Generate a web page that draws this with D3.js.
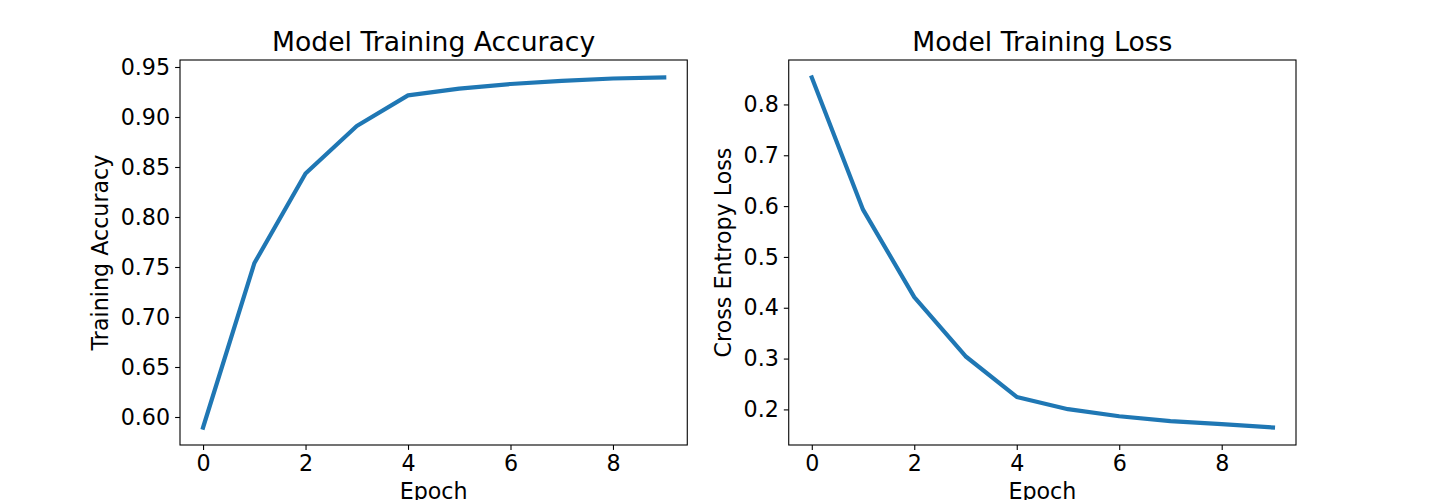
<!DOCTYPE html>
<html>
<head>
<meta charset="utf-8">
<script src="https://cdn.jsdelivr.net/npm/d3@7"></script>
<style>
  body { margin: 0; background: #fff; }
  svg { display: block; font-family: "DejaVu Sans", sans-serif; }
</style>
</head>
<body>
<svg id="chart" width="1440" height="500"></svg>
<script>
const epochs = [0, 1, 2, 3, 4, 5, 6, 7, 8, 9];
const accuracy = [0.5895, 0.7537, 0.8435, 0.8910, 0.9216, 0.9283, 0.9330, 0.9362, 0.9385, 0.9395];
const loss = [0.8530, 0.5930, 0.4210, 0.3046, 0.2245, 0.2004, 0.1866, 0.1768, 0.1710, 0.1644];
const xTicks = [0, 2, 4, 6, 8];
const accTicks = [0.60, 0.65, 0.70, 0.75, 0.80, 0.85, 0.90, 0.95];
const lossTicks = [0.2, 0.3, 0.4, 0.5, 0.6, 0.7, 0.8];

const svg = d3.select("#chart");
const W = 1440, H = 500;
const axLeft = 0.125 * W, axRight = 0.9 * W;
const axTop = 60, axBottom = 445;
const axW = (axRight - axLeft) / 2.2;
const gap = axW * 0.2;
const tickFont = 22.2, labelFont = 22.2, titleFont = 26.6;

function panel(x0, values, ticks, fmt, title, ylabel, ylabelX) {
  const x1 = x0 + axW;
  const xmin = d3.min(epochs), xmax = d3.max(epochs);
  const xm = (xmax - xmin) * 0.05;
  const x = d3.scaleLinear().domain([xmin - xm, xmax + xm]).range([x0, x1]);
  const ymin = d3.min(values), ymax = d3.max(values);
  const ym = (ymax - ymin) * 0.05;
  const y = d3.scaleLinear().domain([ymin - ym, ymax + ym]).range([axBottom, axTop]);

  const g = svg.append("g");
  g.append("path")
    .datum(values)
    .attr("fill", "none")
    .attr("stroke", "#1f77b4")
    .attr("stroke-width", 4.2)
    .attr("stroke-linecap", "square")
    .attr("stroke-linejoin", "round")
    .attr("d", d3.line().x((d, i) => x(epochs[i])).y(d => y(d)));

  g.append("rect")
    .attr("x", x0).attr("y", axTop)
    .attr("width", axW).attr("height", axBottom - axTop)
    .attr("fill", "none").attr("stroke", "#000").attr("stroke-width", 1.1);

  const xa = g.append("g").attr("transform", `translate(0,${axBottom})`)
    .call(d3.axisBottom(x).tickValues(xTicks).tickSize(4.9).tickPadding(5).tickFormat(d3.format("d")));
  xa.select(".domain").remove();
  xa.selectAll("line").attr("stroke", "#000").attr("stroke-width", 1.1);
  xa.selectAll("text").attr("font-size", tickFont).attr("fill", "#000").attr("font-family", "DejaVu Sans");

  const ya = g.append("g").attr("transform", `translate(${x0},0)`)
    .call(d3.axisLeft(y).tickValues(ticks).tickSize(4.9).tickPadding(5).tickFormat(fmt));
  ya.select(".domain").remove();
  ya.selectAll("line").attr("stroke", "#000").attr("stroke-width", 1.1);
  ya.selectAll("text").attr("font-size", tickFont).attr("fill", "#000").attr("font-family", "DejaVu Sans");

  g.append("text")
    .attr("x", (x0 + x1) / 2).attr("y", 51)
    .attr("text-anchor", "middle")
    .attr("font-size", titleFont)
    .attr("fill", "#000")
    .text(title);

  g.append("text")
    .attr("x", (x0 + x1) / 2).attr("y", 499)
    .attr("text-anchor", "middle")
    .attr("font-size", labelFont)
    .attr("fill", "#000")
    .text("Epoch");

  g.append("text")
    .attr("transform", `translate(${ylabelX},${(axTop + axBottom) / 2}) rotate(-90)`)
    .attr("text-anchor", "middle")
    .attr("font-size", labelFont)
    .attr("fill", "#000")
    .text(ylabel);
}

panel(axLeft, accuracy, accTicks, d3.format(".2f"), "Model Training Accuracy", "Training Accuracy", 107.5);
panel(axLeft + axW + gap, loss, lossTicks, d3.format(".1f"), "Model Training Loss", "Cross Entropy Loss", 730.5);
</script>
</body>
</html>
